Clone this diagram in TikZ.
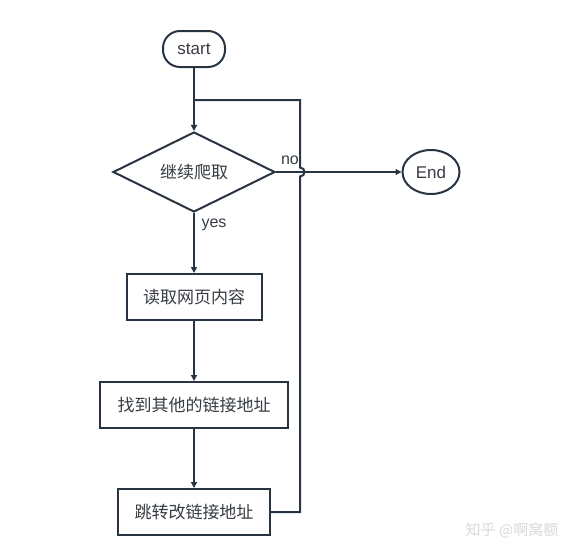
\documentclass[tikz,border=0pt]{standalone}
\usepackage{fontspec}
\setmainfont{Liberation Sans}
\newfontfamily\cjkfont{Noto Sans CJK SC}
\usetikzlibrary{shapes.geometric,arrows.meta,positioning}
\definecolor{linecol}{RGB}{40,52,66}
\definecolor{textcol}{RGB}{55,60,66}

\tikzset{
  base/.style={draw=linecol, line width=2pt, text=textcol,
    font=\fontsize{17}{20}\selectfont, inner sep=0pt, fill=white},
  terminal/.style={base, rounded corners=17pt,
    minimum width=62pt, minimum height=36pt},
  endnode/.style={base, ellipse, minimum width=57pt, minimum height=44pt},
  decision/.style={base, diamond, aspect=2,
    minimum width=162pt, minimum height=80pt},
  process/.style={base, minimum height=46pt},
  conn/.style={draw=linecol, line width=2pt},
  arrow/.style={conn, -{Triangle[length=6pt,width=6pt]}},
  lbl/.style={text=textcol, font=\fontsize{16}{19}\selectfont}
}

\begin{document}
\begin{tikzpicture}[x=1pt,y=-1pt]
  \useasboundingbox (0,0) rectangle (582,554);
  % nodes
  \node[terminal] (start) at (194,49) {start};
  \node[decision] (cond) at (194,172) {\cjkfont 继续爬取};
  \node[endnode] (end) at (431,172) {End};
  \node[process, minimum width=135pt] (read) at (194,297) {\cjkfont 读取网页内容};
  \node[process, minimum width=188pt] (find) at (194,405) {\cjkfont 找到其他的链接地址};
  \node[process, minimum width=152pt] (jump) at (194,512) {\cjkfont 跳转改链接地址};
  % labels
  \node[lbl] (no) at (290,160) {no};
  \node[lbl] (yes) at (214,225) {yes};
  % loop back corners
  \coordinate (loopt) at (300,100);
  \coordinate (jlo) at (300,176.5);
  \coordinate (jhi) at (300,167.5);
  % connectors
  \draw[arrow] (start) -- (cond);
  \draw[arrow] (cond.east) -- (end.west);
  \draw[arrow] (cond) -- (read);
  \draw[arrow] (read) -- (find);
  \draw[arrow] (find) -- (jump);
  \draw[conn] (jump.east) -| (jlo) .. controls +(6,0) and +(6,0) .. (jhi)
    -- (loopt) -- (loopt -| start);
  % watermark
  \node[text=gray!30, font=\cjkfont\fontsize{15}{18}\selectfont] (wm) at (512,530) {知乎 @啊窝额};
\end{tikzpicture}
\end{document}
